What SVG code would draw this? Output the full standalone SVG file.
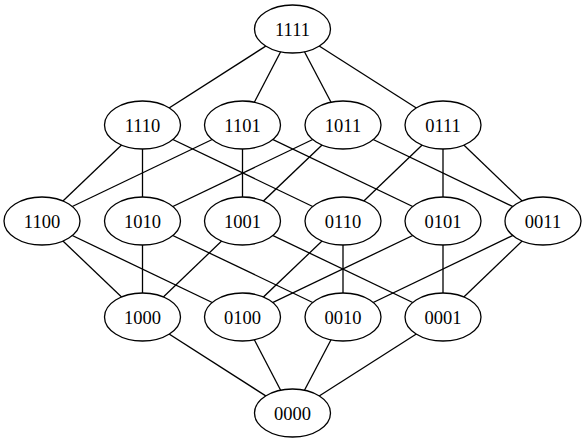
<svg xmlns="http://www.w3.org/2000/svg" width="585" height="443" viewBox="0 0 585 443">
<style>
.e{stroke:#000;stroke-width:1.3;fill:none}
.n ellipse{fill:#fff;stroke:#000;stroke-width:1.3}
.n text{font-family:"Liberation Serif","Times New Roman",serif;font-size:18.5px;text-anchor:middle;fill:#000}
</style>
<rect width="585" height="443" fill="#fff"/>
<g id="edges">
<line class="e" x1="292.5" y1="29" x2="142.5" y2="125"/>
<line class="e" x1="292.5" y1="29" x2="242.5" y2="125"/>
<line class="e" x1="292.5" y1="29" x2="343" y2="125"/>
<line class="e" x1="292.5" y1="29" x2="443" y2="125"/>
<line class="e" x1="142.5" y1="125" x2="42" y2="221"/>
<line class="e" x1="142.5" y1="125" x2="142.5" y2="221"/>
<line class="e" x1="142.5" y1="125" x2="343" y2="221"/>
<line class="e" x1="242.5" y1="125" x2="42" y2="221"/>
<line class="e" x1="242.5" y1="125" x2="242.5" y2="221"/>
<line class="e" x1="242.5" y1="125" x2="443" y2="221"/>
<line class="e" x1="343" y1="125" x2="142.5" y2="221"/>
<line class="e" x1="343" y1="125" x2="242.5" y2="221"/>
<line class="e" x1="343" y1="125" x2="543" y2="221"/>
<line class="e" x1="443" y1="125" x2="343" y2="221"/>
<line class="e" x1="443" y1="125" x2="443" y2="221"/>
<line class="e" x1="443" y1="125" x2="543" y2="221"/>
<line class="e" x1="42" y1="221" x2="142.5" y2="317"/>
<line class="e" x1="42" y1="221" x2="242.5" y2="317"/>
<line class="e" x1="142.5" y1="221" x2="142.5" y2="317"/>
<line class="e" x1="142.5" y1="221" x2="343" y2="317"/>
<line class="e" x1="242.5" y1="221" x2="142.5" y2="317"/>
<line class="e" x1="242.5" y1="221" x2="443" y2="317"/>
<line class="e" x1="343" y1="221" x2="242.5" y2="317"/>
<line class="e" x1="343" y1="221" x2="343" y2="317"/>
<line class="e" x1="443" y1="221" x2="242.5" y2="317"/>
<line class="e" x1="443" y1="221" x2="443" y2="317"/>
<line class="e" x1="543" y1="221" x2="343" y2="317"/>
<line class="e" x1="543" y1="221" x2="443" y2="317"/>
<line class="e" x1="142.5" y1="317" x2="292.5" y2="413"/>
<line class="e" x1="242.5" y1="317" x2="292.5" y2="413"/>
<line class="e" x1="343" y1="317" x2="292.5" y2="413"/>
<line class="e" x1="443" y1="317" x2="292.5" y2="413"/>
</g>
<g id="n1111" class="n"><ellipse cx="292.5" cy="29" rx="38" ry="24"/><text x="292.5" y="35.5">1111</text></g>
<g id="n1110" class="n"><ellipse cx="142.5" cy="125" rx="38" ry="24"/><text x="142.5" y="131.5">1110</text></g>
<g id="n1101" class="n"><ellipse cx="242.5" cy="125" rx="38" ry="24"/><text x="242.5" y="131.5">1101</text></g>
<g id="n1011" class="n"><ellipse cx="343" cy="125" rx="38" ry="24"/><text x="343" y="131.5">1011</text></g>
<g id="n0111" class="n"><ellipse cx="443" cy="125" rx="38" ry="24"/><text x="443" y="131.5">0111</text></g>
<g id="n1100" class="n"><ellipse cx="42" cy="221" rx="38" ry="24"/><text x="42" y="227.5">1100</text></g>
<g id="n1010" class="n"><ellipse cx="142.5" cy="221" rx="38" ry="24"/><text x="142.5" y="227.5">1010</text></g>
<g id="n1001" class="n"><ellipse cx="242.5" cy="221" rx="38" ry="24"/><text x="242.5" y="227.5">1001</text></g>
<g id="n0110" class="n"><ellipse cx="343" cy="221" rx="38" ry="24"/><text x="343" y="227.5">0110</text></g>
<g id="n0101" class="n"><ellipse cx="443" cy="221" rx="38" ry="24"/><text x="443" y="227.5">0101</text></g>
<g id="n0011" class="n"><ellipse cx="543" cy="221" rx="38" ry="24"/><text x="543" y="227.5">0011</text></g>
<g id="n1000" class="n"><ellipse cx="142.5" cy="317" rx="38" ry="24"/><text x="142.5" y="323.5">1000</text></g>
<g id="n0100" class="n"><ellipse cx="242.5" cy="317" rx="38" ry="24"/><text x="242.5" y="323.5">0100</text></g>
<g id="n0010" class="n"><ellipse cx="343" cy="317" rx="38" ry="24"/><text x="343" y="323.5">0010</text></g>
<g id="n0001" class="n"><ellipse cx="443" cy="317" rx="38" ry="24"/><text x="443" y="323.5">0001</text></g>
<g id="n0000" class="n"><ellipse cx="292.5" cy="413" rx="38" ry="24"/><text x="292.5" y="419.5">0000</text></g>
</svg>
